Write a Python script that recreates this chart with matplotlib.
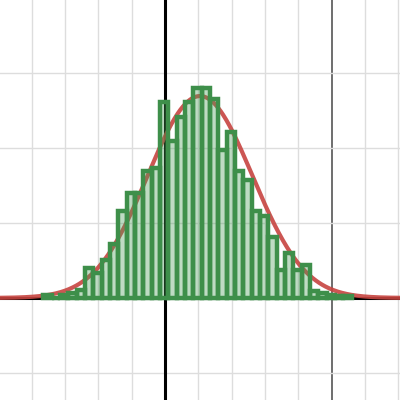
import numpy as np
import matplotlib
matplotlib.use("Agg")
import matplotlib.pyplot as plt

bin_start = -3.65
bin_width = 0.25
heights = [0.044,0,0.044,0.067,0.111,0.4,0.333,0.511,0.724,1.164,1.4,1.4,1.689,1.733,
           2.609,2.089,2.413,2.609,2.8,2.8,2.653,1.969,2.209,1.689,1.578,1.164,1.089,
           0.813,0.369,0.6,0.369,0.444,0.089,0.067,0.044,0.022,0.022]
curve_amp = 2.69
curve_mu = 1.05
curve_sigma = 1.57

fig = plt.figure(figsize=(4, 4), dpi=100)
ax = fig.add_axes([0, 0, 1, 1])
ax.set_xlim(-4.95, 7.05)
ax.set_ylim(-1.36, 3.97)
for x in range(-4, 8):
    ax.axvline(x, color='#555555' if x == 5 else '#dddddd', lw=1.2 if x == 5 else 1.0, zorder=0)
for y in range(-1, 4):
    ax.axhline(y, color='#dddddd', lw=1.0, zorder=0)
ax.axvline(0, color='black', lw=2.2, zorder=1)
ax.axhline(0, color='black', lw=2.2, zorder=1)

lefts = bin_start + bin_width * np.arange(len(heights))
ax.bar(lefts, heights, width=bin_width, align='edge', color=(0.27, 0.6, 0.33, 0.35),
       edgecolor='#3e8f4a', linewidth=3.2, zorder=3)

xs = np.linspace(-5, 7.1, 500)
ax.plot(xs, curve_amp * np.exp(-(xs - curve_mu) ** 2 / (2 * curve_sigma ** 2)),
        color='#c74440', lw=3, alpha=0.9, zorder=2)
ax.axis('off')
fig.savefig('out.png', dpi=100)
